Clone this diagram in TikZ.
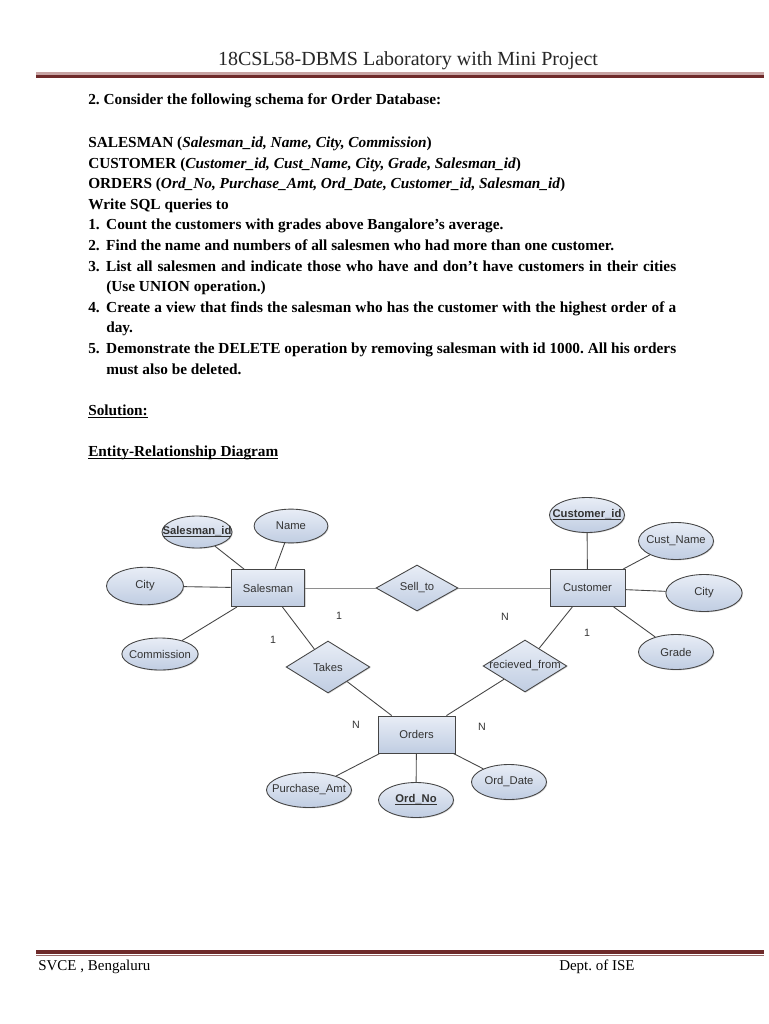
\documentclass[tikz,border=0pt]{standalone}
\usepackage{fontspec}
\setmainfont{Liberation Serif}
\newfontfamily\erfont{Liberation Sans}
\usepackage{xcolor}
\definecolor{RuleDark}{HTML}{6E2A2A}
\definecolor{RuleLight}{HTML}{C7A3A3}
\definecolor{ERText}{HTML}{333333}
\definecolor{ERLine}{HTML}{454545}
\definecolor{ERSoft}{HTML}{8E8E8E}
\definecolor{FillTop}{HTML}{E8EDF6}
\definecolor{FillBot}{HTML}{C0CDE2}
\usetikzlibrary{shapes.geometric,shadows}
\newcommand{\qnum}[1]{\makebox[14.4pt][l]{#1}}
\newcommand{\keyattr}[1]{\underline{\raisebox{0pt}[\height][0pt]{\textbf{#1}}}}
\frenchspacing
\tikzset{
  headtext/.style={anchor=base,inner sep=0pt,font=\fontsize{16}{18}\selectfont,text=black!85},
  bodyline/.style={anchor=base west,inner sep=0pt,font=\fontsize{12.25}{14}\selectfont\bfseries},
  fullline/.style={bodyline,text width=470.4pt,align=justify,
    execute at begin node={\parfillskip=0pt\relax}},
  foottext/.style={anchor=base west,inner sep=0pt,font=\fontsize{12}{14}\selectfont},
  fixsize/.style={execute at begin node={\hbox to 0pt\bgroup\hss},
    execute at end node={\hss\egroup}},
  erbox/.style={draw=ERLine,line width=0.7pt,top color=FillTop,bottom color=FillBot,
    inner sep=0pt,font=\erfont\fontsize{9}{10}\selectfont,text=ERText,
    drop shadow={shadow xshift=0.7pt,shadow yshift=-0.7pt,opacity=0.3}},
  entity/.style={erbox,rectangle,minimum width=59pt,minimum height=29.6pt},
  attr/.style={erbox,ellipse,fixsize,minimum width=60pt,minimum height=28pt},
  rel/.style={erbox,diamond,fixsize,minimum width=67pt,minimum height=41.6pt},
  link/.style={draw=ERLine,line width=0.7pt},
  softlink/.style={draw=ERSoft,line width=0.6pt},
  card/.style={inner sep=0pt,font=\erfont\fontsize{8.5}{10}\selectfont,text=ERText}
}
\begin{document}
\begin{tikzpicture}[x=0.8pt,y=-0.8pt]
  \useasboundingbox (0,0) rectangle (768,1024);
  \fill[white] (0,0) rectangle (768,1024);
  % header
  \node[headtext] (head) at (408,66) {18CSL58-DBMS Laboratory with Mini Project};
  \fill[RuleLight] (36,72.3) rectangle (764,74.7);
  \fill[RuleDark] (36,74.7) rectangle (764,78.3);
  % problem statement
  \node[bodyline] (intro) at (88,104.5) {2. Consider the following schema for Order Database:};
  \node[bodyline] (tsales) at (88,147.5) {SALESMAN (\textit{Salesman\_id, Name, City, Commission})};
  \node[bodyline] (tcust) at (88,168.1) {CUSTOMER (\textit{Customer\_id, Cust\_Name, City, Grade, Salesman\_id})};
  \node[bodyline] (tord) at (88,188.7) {ORDERS (\textit{Ord\_No, Purchase\_Amt, Ord\_Date, Customer\_id, Salesman\_id})};
  \node[bodyline] (twrite) at (88,209.3) {Write SQL queries to};
  \node[bodyline] (q1) at (88,229.9) {\qnum{1.}Count the customers with grades above Bangalore’s average.};
  \node[bodyline] (q2) at (88,250.5) {\qnum{2.}Find the name and numbers of all salesmen who had more than one customer.};
  \node[fullline] (q3) at (88,271.1) {\qnum{3.}List all salesmen and indicate those who have and don’t have customers in their cities};
  \node[bodyline] (q3b) at (106,291.7) {(Use UNION operation.)};
  \node[fullline] (q4) at (88,312.3) {\qnum{4.}Create a view that finds the salesman who has the customer with the highest order of a};
  \node[bodyline] (q4b) at (106,332.9) {day.};
  \node[fullline] (q5) at (88,353.5) {\qnum{5.}Demonstrate the DELETE operation by removing salesman with id 1000. All his orders};
  \node[bodyline] (q5b) at (106,374.1) {must also be deleted.};
  \node[bodyline] (solution) at (88,415.3) {\underline{\smash{Solution:}}};
  \node[bodyline] (erhead) at (88,456.5) {\underline{\smash{Entity-Relationship Diagram}}};
  % entities and relationships
  \node[entity] (salesman) at (268,588) {Salesman};
  \node[entity, minimum width=60pt] (customer) at (587.5,588) {Customer};
  \node[entity, minimum width=61.6pt] (orders) at (416.5,734.5) {Orders};
  \node[rel, minimum width=65.6pt, minimum height=36.8pt] (sellto) at (417,588) {Sell\_to};
  \node[rel] (takes) at (328,667) {Takes};
  \node[rel] (recvfrom) at (525,666) {recieved\_from};
  % attributes
  \node[attr, minimum width=56pt, minimum height=25.6pt] (smid) at (197,532) {\keyattr{Salesman\_id}};
  \node[attr, minimum width=59pt, minimum height=27pt] (sname) at (291,526) {Name};
  \node[attr, minimum width=61.6pt, minimum height=30pt] (scity) at (145,586) {City};
  \node[attr, minimum width=61pt, minimum height=25.6pt] (scomm) at (160,654) {Commission};
  \node[attr] (cid) at (587,515) {\keyattr{Customer\_id}};
  \node[attr, minimum height=29.6pt] (cname) at (676,541) {Cust\_Name};
  \node[attr, minimum width=61pt, minimum height=29.6pt] (ccity) at (704,593) {City};
  \node[attr] (cgrade) at (676,652) {Grade};
  \node[attr, minimum width=68pt] (pamt) at (309,790) {Purchase\_Amt};
  \node[attr] (ordno) at (416,800) {\keyattr{Ord\_No}};
  \node[attr] (odate) at (509,782) {Ord\_Date};
  % connectors
  \draw[link] (smid) -- (salesman);
  \draw[link] (sname) -- (salesman);
  \draw[link] (scity) -- (salesman);
  \draw[link] (scomm) -- (salesman);
  \draw[softlink] (salesman) -- (sellto);
  \draw[softlink] (sellto) -- (customer);
  \draw[link] (salesman) -- (takes);
  \draw[link] (takes) -- (orders);
  \draw[link] (cid) -- (customer);
  \draw[link] (cname) -- (customer);
  \draw[link] (ccity) -- (customer);
  \draw[link] (cgrade) -- (customer);
  \draw[link] (customer) -- (recvfrom);
  \draw[link] (recvfrom) -- (orders);
  \draw[link] (pamt) -- (orders);
  \draw[link] (ordno) -- (orders);
  \draw[link] (odate) -- (orders);
  % cardinalities
  \node[card] (cardsell) at (339,616) {1};
  \node[card] (cardtake) at (273,640) {1};
  \node[card] (cardcust) at (505,617) {N};
  \node[card] (cardrecv) at (587,633) {1};
  \node[card] (cardordl) at (356,725) {N};
  \node[card] (cardordr) at (482,727) {N};
  % footer
  \fill[RuleDark] (36,950) rectangle (764,954);
  \fill[RuleDark!70] (36,955) rectangle (764,956);
  \node[foottext] (svce) at (38,970) {SVCE , Bengaluru};
  \node[foottext] (dept) at (559,970) {Dept. of ISE};
\end{tikzpicture}
\end{document}
